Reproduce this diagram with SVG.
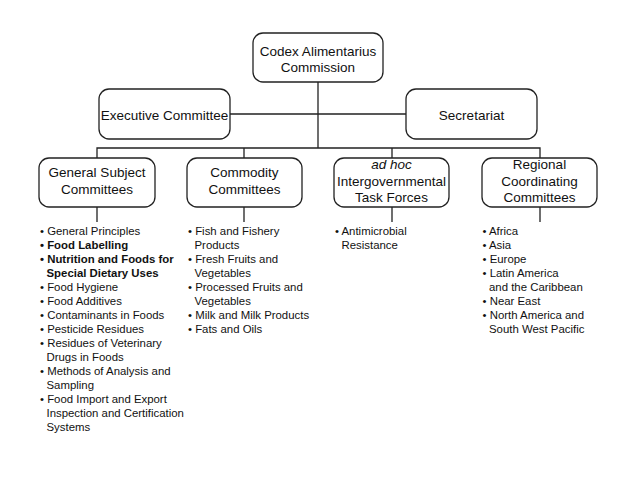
<svg xmlns="http://www.w3.org/2000/svg" width="638" height="478" viewBox="0 0 638 478">
<style>
.box{fill:#fff;stroke:#222;stroke-width:1.3}
.t{font-family:"Liberation Sans",Arial,sans-serif;font-size:13.5px;fill:#111;text-anchor:middle}
.l{font-family:"Liberation Sans",Arial,sans-serif;font-size:11.4px;fill:#111}
.b{font-weight:bold}
.c{fill:none;stroke:#222;stroke-width:1.3}
</style>
<rect width="638" height="478" fill="#fff"/>
<g id="connectors">
<path class="c" d="M318 82V148M230 114H406M97 158V148H540V158M244 148V158M392 148V158"/>
<path class="c" d="M97 207V222M244 207V222M392 207V222M540 207V222"/>
</g>
<g id="codex">
<rect class="box" x="253" y="33" width="130" height="49" rx="10"/>
<text class="t" x="318" y="56">Codex Alimentarius</text>
<text class="t" x="318" y="72">Commission</text>
</g>
<g id="executive">
<rect class="box" x="99" y="89" width="131" height="50" rx="10"/>
<text class="t" x="164.5" y="120">Executive Committee</text>
</g>
<g id="secretariat">
<rect class="box" x="406" y="89" width="131" height="50" rx="10"/>
<text class="t" x="471.5" y="120">Secretariat</text>
</g>
<g id="general">
<rect class="box" x="39" y="158" width="116" height="49" rx="10"/>
<text class="t" x="97" y="177">General Subject</text>
<text class="t" x="97" y="194">Committees</text>
</g>
<g id="commodity">
<rect class="box" x="187" y="158" width="115" height="49" rx="10"/>
<text class="t" x="244.5" y="177">Commodity</text>
<text class="t" x="244.5" y="194">Committees</text>
</g>
<g id="adhoc">
<rect class="box" x="334" y="158" width="115" height="49" rx="10"/>
<text class="t" x="391.5" y="169" font-style="italic">ad hoc</text>
<text class="t" x="391.5" y="186">Intergovernmental</text>
<text class="t" x="391.5" y="202">Task Forces</text>
</g>
<g id="regional">
<rect class="box" x="482" y="158" width="115" height="49" rx="10"/>
<text class="t" x="539.5" y="168.5">Regional</text>
<text class="t" x="539.5" y="185.5">Coordinating</text>
<text class="t" x="539.5" y="202">Committees</text>
</g>
<g id="general-list" class="l">
<text x="40" y="235">• General Principles</text>
<text x="40" y="249" class="b">• Food Labelling</text>
<text x="40" y="263" class="b">• Nutrition and Foods for</text>
<text x="46.5" y="277" class="b">Special Dietary Uses</text>
<text x="40" y="291">• Food Hygiene</text>
<text x="40" y="305">• Food Additives</text>
<text x="40" y="319">• Contaminants in Foods</text>
<text x="40" y="333">• Pesticide Residues</text>
<text x="40" y="347">• Residues of Veterinary</text>
<text x="46.5" y="361">Drugs in Foods</text>
<text x="40" y="375">• Methods of Analysis and</text>
<text x="46.5" y="389">Sampling</text>
<text x="40" y="403">• Food Import and Export</text>
<text x="46.5" y="417">Inspection and Certification</text>
<text x="46.5" y="431">Systems</text>
</g>
<g id="commodity-list" class="l">
<text x="188" y="235">• Fish and Fishery</text>
<text x="194.5" y="249">Products</text>
<text x="188" y="263">• Fresh Fruits and</text>
<text x="194.5" y="277">Vegetables</text>
<text x="188" y="291">• Processed Fruits and</text>
<text x="194.5" y="305">Vegetables</text>
<text x="188" y="319">• Milk and Milk Products</text>
<text x="188" y="333">• Fats and Oils</text>
</g>
<g id="adhoc-list" class="l">
<text x="335" y="235">• Antimicrobial</text>
<text x="341.5" y="249">Resistance</text>
</g>
<g id="regional-list" class="l">
<text x="482.5" y="235">• Africa</text>
<text x="482.5" y="249">• Asia</text>
<text x="482.5" y="263">• Europe</text>
<text x="482.5" y="277">• Latin America</text>
<text x="489" y="291">and the Caribbean</text>
<text x="482.5" y="305">• Near East</text>
<text x="482.5" y="319">• North America and</text>
<text x="489" y="333">South West Pacific</text>
</g>
</svg>
